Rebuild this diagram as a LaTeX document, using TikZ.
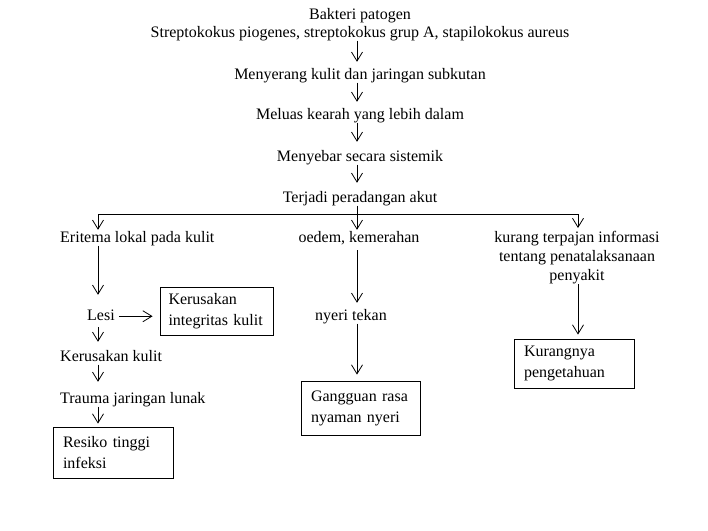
\documentclass[tikz,border=0pt]{standalone}
\usepackage{fontspec}
\setmainfont{Liberation Serif}
\usetikzlibrary{arrows.meta}
\begin{document}
\begin{tikzpicture}[x=1pt,y=-1pt,
  txt/.style={inner sep=0pt, text height=11pt, text depth=3.5pt, font=\fontsize{16pt}{19pt}\selectfont},
  boxn/.style={draw, line width=0.8pt, align=left, inner ysep=0pt, font=\fontsize{16pt}{21pt}\selectfont},
  arr/.style={line width=0.8pt, -{Straight Barb[length=9pt,width=11pt,line width=0.8pt]}},
  ln/.style={line width=0.8pt}]
\useasboundingbox (0,0) rectangle (708,530);
\coordinate (sp) at (357,0);
\coordinate (lc) at (98,0);
\coordinate (rc) at (578,0);
\coordinate (hl) at (0,214);
\node[txt, anchor=base] (bak) at (360,19) {Bakteri patogen};
\node[txt, anchor=base] (str) at (360,37) {Streptokokus piogenes, streptokokus grup A, stapilokokus aureus};
\node[txt, anchor=base] (men) at (360,79) {Menyerang kulit dan jaringan subkutan};
\node[txt, anchor=base] (mel) at (360,119) {Meluas kearah yang lebih dalam};
\node[txt, anchor=base] (meb) at (360,161) {Menyebar secara sistemik};
\node[txt, anchor=base] (ter) at (360,202) {Terjadi peradangan akut};
\node[txt, anchor=base west] (eri) at (60,242) {Eritema lokal pada kulit};
\node[txt, anchor=base] (oed) at (359,242) {oedem, kemerahan};
\node[anchor=north, inner sep=0pt, align=center, font=\fontsize{16pt}{19pt}\selectfont] (kur) at (577,231) {kurang terpajan informasi\\tentang penatalaksanaan\\penyakit};
\node[txt, anchor=base west] (lesi) at (87,320) {Lesi};
\node[txt, anchor=base] (nye) at (351,320) {nyeri tekan};
\node[txt, anchor=base west] (kk) at (60,361) {Kerusakan kulit};
\node[txt, anchor=base west] (tra) at (60,403) {Trauma jaringan lunak};
\node[boxn, minimum width=113pt, minimum height=48pt, text width=96pt, inner xsep=8.5pt] (kint) at (216.5,311) {Kerusakan\\integritas kulit};
\node[boxn, minimum width=120pt, minimum height=51pt, text width=100pt, inner xsep=10pt] (res) at (113,452.5) {Resiko tinggi\\infeksi};
\node[boxn, minimum width=119pt, minimum height=54pt, text width=99pt, inner xsep=10pt] (gang) at (360.5,408) {Gangguan rasa\\nyaman nyeri};
\node[boxn, minimum width=120pt, minimum height=49pt, text width=100pt, inner xsep=10pt] (kurb) at (574,363.5) {Kurangnya\\pengetahuan};
\draw[arr, shorten >=6pt] (str.south -| sp) -- (men.north -| sp);
\draw[arr, shorten >=6pt] (men.south -| sp) -- (mel.north -| sp);
\draw[arr, shorten >=8pt] (mel.south -| sp) -- (meb.north -| sp);
\draw[arr, shorten >=8pt] (meb.south -| sp) -- (ter.north -| sp);
\draw[arr, shorten >=1pt] (ter.south -| sp) -- (oed.north -| sp);
\draw[ln] (hl -| lc) -- (hl -| rc);
\draw[arr, shorten >=1pt] (hl -| lc) -- (eri.north -| lc);
\draw[arr, shorten >=3pt] (hl -| rc) -- (kur.north -| rc);
\draw[arr, shorten >=14pt] (eri.south -| lc) -- (lesi.north -| lc);
\draw[arr, shorten <=4pt, shorten >=7pt] (lesi.east) -- (lesi.east -| kint.west);
\draw[arr, shorten <=3.5pt, shorten >=8pt] (lesi.south -| lc) -- (kk.north -| lc);
\draw[arr, shorten >=10pt] (kk.south -| lc) -- (tra.north -| lc);
\draw[arr, shorten >=3pt] (tra.south -| lc) -- (res.north -| lc);
\draw[arr, shorten <=4.5pt, shorten >=6pt] (oed.south -| sp) -- (nye.north -| sp);
\draw[arr, shorten >=6pt] (nye.south -| sp) -- (gang.north -| sp);
\draw[arr, shorten >=4pt] (kur.south -| rc) -- (kurb.north -| rc);
\end{tikzpicture}
\end{document}
